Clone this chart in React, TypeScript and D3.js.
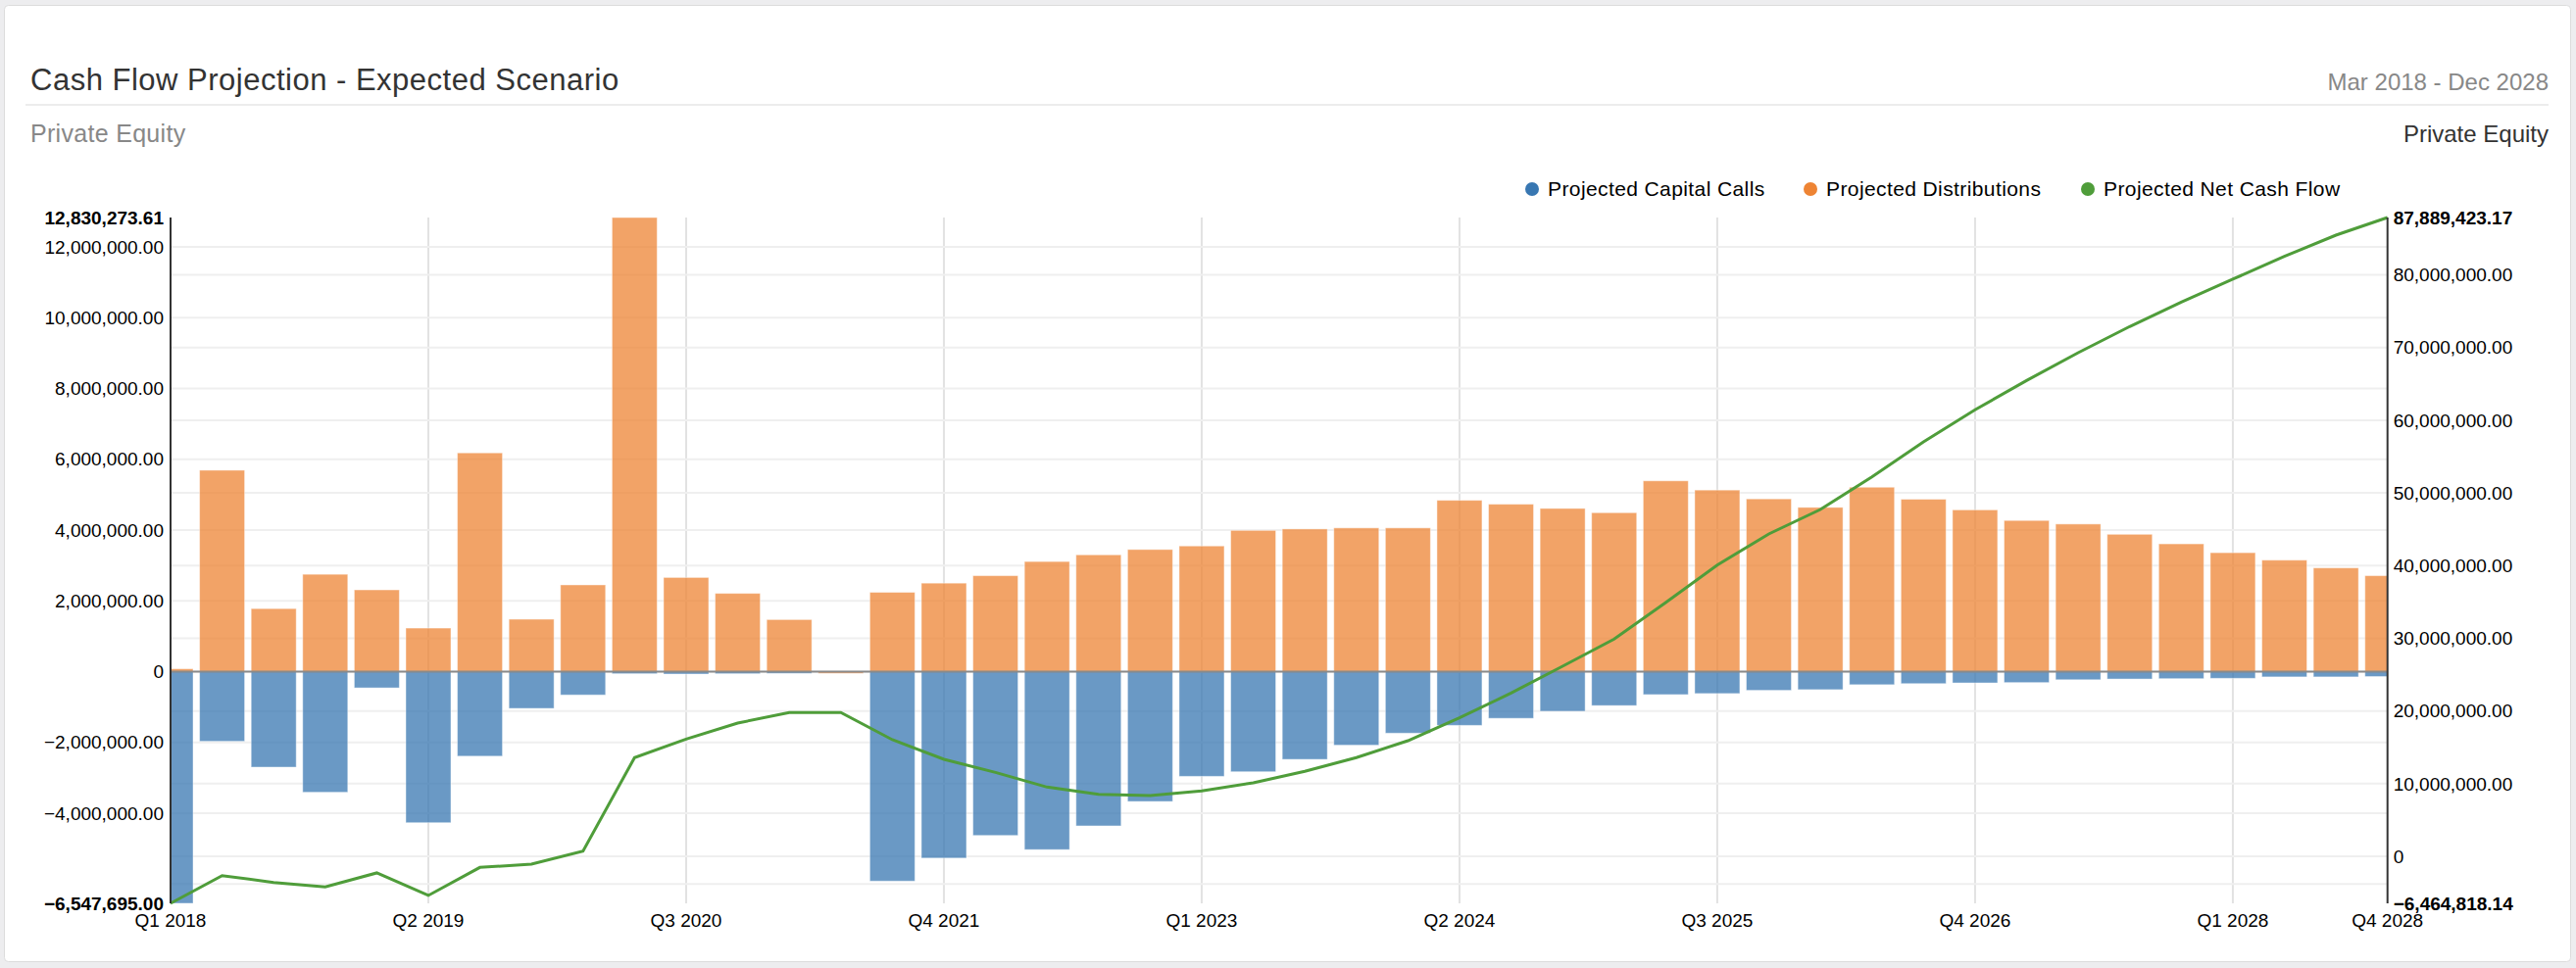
import React, { useEffect, useRef } from 'react'
import * as d3 from 'd3'

const quarters = [
  'Q1 2018', 'Q2 2018', 'Q3 2018', 'Q4 2018',
  'Q1 2019', 'Q2 2019', 'Q3 2019', 'Q4 2019',
  'Q1 2020', 'Q2 2020', 'Q3 2020', 'Q4 2020',
  'Q1 2021', 'Q2 2021', 'Q3 2021', 'Q4 2021',
  'Q1 2022', 'Q2 2022', 'Q3 2022', 'Q4 2022',
  'Q1 2023', 'Q2 2023', 'Q3 2023', 'Q4 2023',
  'Q1 2024', 'Q2 2024', 'Q3 2024', 'Q4 2024',
  'Q1 2025', 'Q2 2025', 'Q3 2025', 'Q4 2025',
  'Q1 2026', 'Q2 2026', 'Q3 2026', 'Q4 2026',
  'Q1 2027', 'Q2 2027', 'Q3 2027', 'Q4 2027',
  'Q1 2028', 'Q2 2028', 'Q3 2028', 'Q4 2028'
]

const tickQuarters = ['Q1 2018', 'Q2 2019', 'Q3 2020', 'Q4 2021', 'Q1 2023', 'Q2 2024', 'Q3 2025', 'Q4 2026', 'Q1 2028', 'Q4 2028']

const capitalCalls = [
  -6547695, -1970000, -2700000, -3410000, -460000, -4270000, -2390000, -1040000, -660000, -60000,
  -70000, -60000, -50000, 0, -5920000, -5270000, -4630000, -5030000, -4360000, -3670000,
  -2960000, -2830000, -2480000, -2080000, -1740000, -1520000, -1320000, -1120000, -960000, -650000,
  -620000, -530000, -510000, -370000, -340000, -320000, -310000, -230000, -210000, -200000,
  -190000, -150000, -150000, -140000
]

const distributions = [
  80000, 5690000, 1780000, 2750000, 2310000, 1230000, 6180000, 1480000, 2450000, 12830273.61,
  2660000, 2210000, 1470000, -50000, 2240000, 2500000, 2710000, 3110000, 3300000, 3450000,
  3550000, 3990000, 4030000, 4060000, 4060000, 4840000, 4730000, 4610000, 4490000, 5390000,
  5130000, 4880000, 4640000, 5210000, 4870000, 4570000, 4270000, 4170000, 3880000, 3610000,
  3360000, 3150000, 2930000, 2710000
]

const netCashFlow = [
  -6464818.14, -2650000, -3590000, -4210000, -2280000, -5380000, -1520000, -1070000, 720000, 13580000,
  16140000, 18340000, 19780000, 19780000, 16050000, 13350000, 11550000, 9530000, 8540000, 8360000,
  8990000, 10120000, 11690000, 13580000, 15910000, 19050000, 22470000, 26160000, 29890000, 34920000,
  40080000, 44350000, 47720000, 52210000, 57020000, 61430000, 65470000, 69290000, 72890000, 76250000,
  79400000, 82540000, 85460000, 87889423.17
]

const seriesNames = ['Projected Capital Calls', 'Projected Distributions', 'Projected Net Cash Flow']
const colors = ['#3877b2', '#ee8434', '#4f9d3a']

const W = 2628
const H = 988
const FONT = '"Liberation Sans", Arial, Helvetica, sans-serif'

const Chart = () => {
  const ref = useRef<SVGSVGElement>(null)

  useEffect(() => {
    const svg = d3.select(ref.current)
    svg.selectAll('*').remove()

    const left = 174
    const right = 2435.7
    const top = 222
    const bottom = 922

    // card
    svg.append('rect').attr('width', W).attr('height', H).attr('fill', '#ededef')
    svg.append('rect').attr('x', 4.5).attr('y', 5.5).attr('width', 2618).attr('height', 976)
      .attr('rx', 4).attr('fill', '#fff').attr('stroke', '#dcdcdc')

    svg.append('text').attr('x', 31).attr('y', 92).attr('font-size', 31).attr('fill', '#333')
      .attr('letter-spacing', 0.5).text('Cash Flow Projection - Expected Scenario')
    svg.append('text').attr('x', 2600).attr('y', 92).attr('font-size', 24).attr('fill', '#888')
      .attr('text-anchor', 'end').text('Mar 2018 - Dec 2028')
    svg.append('line').attr('x1', 26).attr('x2', 2600).attr('y1', 107).attr('y2', 107)
      .attr('stroke', '#ececec').attr('stroke-width', 2)
    svg.append('text').attr('x', 31).attr('y', 145).attr('font-size', 25).attr('fill', '#888')
      .attr('letter-spacing', 0.3).text('Private Equity')
    svg.append('text').attr('x', 2600).attr('y', 145).attr('font-size', 24).attr('fill', '#333')
      .attr('text-anchor', 'end').text('Private Equity')

    // legend
    const legendX = [1563, 1847, 2130]
    const legend = svg.append('g')
    seriesNames.forEach((name, i) => {
      legend.append('circle').attr('cx', legendX[i]).attr('cy', 193).attr('r', 7).attr('fill', colors[i])
      legend.append('text').attr('x', legendX[i] + 16).attr('y', 193).attr('dy', '0.35em')
        .attr('font-size', 21).attr('letter-spacing', 0.4).attr('fill', '#000').text(name)
    })

    const x = d3.scalePoint<string>().domain(quarters).range([left, right])
    const yLeft = d3.scaleLinear()
      .domain([d3.min(capitalCalls.concat(distributions)) as number, d3.max(capitalCalls.concat(distributions)) as number])
      .range([bottom, top])
    const yRight = d3.scaleLinear().domain(d3.extent(netCashFlow) as [number, number]).range([bottom, top])

    const fmt = (v: number) => (v === 0 ? '0' : d3.format(',.2f')(v))

    // grid
    const grid = svg.append('g')
    tickQuarters.slice(1, -1).forEach(q => {
      grid.append('line').attr('x1', x(q)!).attr('x2', x(q)!).attr('y1', top).attr('y2', bottom)
        .attr('stroke', '#e2e2e2').attr('stroke-width', 2)
    })
    yLeft.ticks(10).concat(yRight.ticks(10).map(t => yLeft.invert(yRight(t)))).forEach(t => {
      grid.append('line').attr('x1', left).attr('x2', right).attr('y1', yLeft(t)).attr('y2', yLeft(t))
        .attr('stroke', '#efefef').attr('stroke-width', 2)
    })

    svg.append('clipPath').attr('id', 'plotClip').append('rect')
      .attr('x', left).attr('y', top - 2).attr('width', right - left).attr('height', bottom - top + 4)

    const bw = 46
    const bars = svg.append('g').attr('clip-path', 'url(#plotClip)')
    const drawBars = (vals: number[], col: string) => {
      bars.append('g').selectAll('rect').data(vals).enter().append('rect')
        .attr('x', (_, i) => x(quarters[i])! - bw / 2)
        .attr('width', bw)
        .attr('y', d => Math.min(yLeft(d), yLeft(0)))
        .attr('height', d => Math.abs(yLeft(d) - yLeft(0)))
        .attr('fill', col).attr('fill-opacity', 0.75)
        .attr('stroke', '#fff').attr('stroke-opacity', 0.45).attr('stroke-width', 1)
    }
    drawBars(capitalCalls, colors[0])
    drawBars(distributions, colors[1])

    svg.append('line').attr('x1', left).attr('x2', right).attr('y1', yLeft(0)).attr('y2', yLeft(0))
      .attr('stroke', '#8a8a8a').attr('stroke-width', 2)

    const line = d3.line<number>().x((_, i) => x(quarters[i])!).y(d => yRight(d))
    svg.append('path').datum(netCashFlow).attr('d', line).attr('fill', 'none')
      .attr('stroke', colors[2]).attr('stroke-width', 3)

    // axes
    const drawYAxis = (scale: d3.ScaleLinear<number, number>, ax: number, side: 'left' | 'right') => {
      const g = svg.append('g').attr('font-size', 19).attr('fill', '#000')
      g.append('line').attr('x1', ax).attr('x2', ax).attr('y1', top).attr('y2', bottom)
        .attr('stroke', '#333').attr('stroke-width', 2)
      const tx = side === 'left' ? ax - 7 : ax + 6
      const anchor = side === 'left' ? 'end' : 'start'
      scale.ticks(10).forEach(t => {
        const y = scale(t)
        if (y - top < 25 || bottom - y < 25) return
        g.append('text').attr('x', tx).attr('y', y).attr('dy', '0.35em').attr('text-anchor', anchor).text(fmt(t))
      })
      const [lo, hi] = scale.domain()
      g.append('text').attr('x', tx).attr('y', top).attr('dy', '0.35em').attr('text-anchor', anchor)
        .attr('font-weight', 'bold').text(fmt(hi))
      g.append('text').attr('x', tx).attr('y', bottom).attr('dy', '0.35em').attr('text-anchor', anchor)
        .attr('font-weight', 'bold').text(fmt(lo))
    }
    drawYAxis(yLeft, left, 'left')
    drawYAxis(yRight, right, 'right')

    const xAxis = svg.append('g').attr('font-size', 19).attr('fill', '#000')
    tickQuarters.forEach(q => {
      xAxis.append('text').attr('x', x(q)!).attr('y', 939).attr('dy', '0.35em')
        .attr('text-anchor', 'middle').text(q)
    })
  }, [])

  return <svg ref={ref} width={W} height={H} style={{ display: 'block', fontFamily: FONT }} />
}

const App = () => {
  return (
    <div style={{ position: 'absolute', left: 0, top: 0 }}>
      <Chart />
    </div>
  )
}

export default App
